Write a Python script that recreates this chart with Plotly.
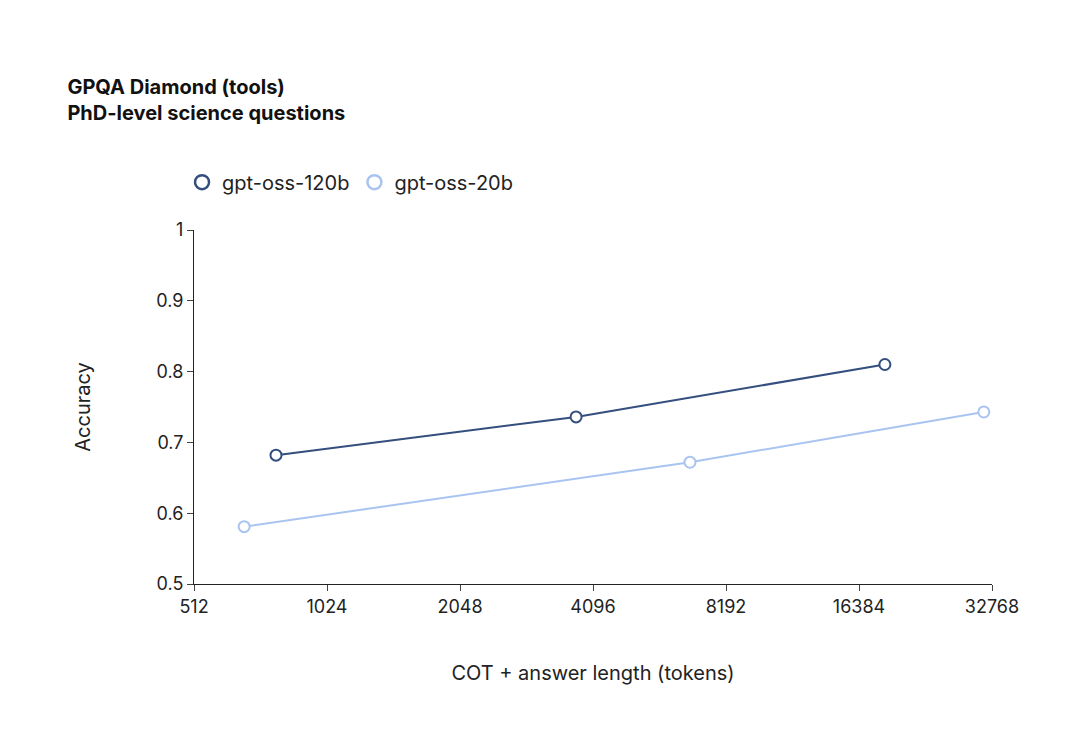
import plotly.graph_objects as go

# values
tokens_120b = [785, 3750, 18750]
acc_120b = [0.682, 0.736, 0.810]
tokens_20b = [665, 6790, 31400]
acc_20b = [0.581, 0.672, 0.743]
x_ticks = [512, 1024, 2048, 4096, 8192, 16384, 32768]
y_ticks = [0.5, 0.6, 0.7, 0.8, 0.9, 1]

dark = "#344e7e"
light = "#a9c4f0"

fig = go.Figure()
for name, xs, ys, col in [
    ("gpt-oss-120b", tokens_120b, acc_120b, dark),
    ("gpt-oss-20b", tokens_20b, acc_20b, light),
]:
    fig.add_trace(go.Scatter(
        x=xs, y=ys, name=name, mode="lines+markers", showlegend=False,
        line=dict(color=col, width=2),
        marker=dict(size=11, color="white", line=dict(color=col, width=2)),
    ))
    # marker-only legend entry
    fig.add_trace(go.Scatter(
        x=[None], y=[None], name=name, mode="markers",
        marker=dict(size=14, color="white", line=dict(color=col, width=2.5)),
    ))

fig.update_layout(
    width=1080, height=750,
    paper_bgcolor="white", plot_bgcolor="white",
    font=dict(family="Inter, Noto Sans, sans-serif", size=18, color="#222"),
    margin=dict(l=186, r=96, t=222, b=174),
    title=dict(
        text="<b>GPQA Diamond (tools)<br>PhD-level science questions</b>",
        x=0.055, xanchor="left", y=0.885, yanchor="top",
        font=dict(size=20, color="#111"),
    ),
    legend=dict(orientation="h", x=-0.015, xanchor="left", y=1.08, yanchor="bottom",
                font=dict(size=20), itemwidth=30, tracegroupgap=0),
)
fig.update_xaxes(
    type="log", range=[2.70927, 4.51545], tickvals=x_ticks,
    ticktext=[str(v) for v in x_ticks],
    showgrid=False, showline=True, linecolor="#222", ticks="outside", ticklen=6,
    title=dict(text="COT + answer length (tokens)", standoff=50, font=dict(size=20)),
)
fig.update_yaxes(
    range=[0.5, 1], tickvals=y_ticks, ticktext=["0.5", "0.6", "0.7", "0.8", "0.9", "1"],
    showgrid=False, showline=True, linecolor="#222", ticks="outside", ticklen=6,
    title=dict(text="Accuracy", standoff=60, font=dict(size=20)),
)

fig.write_html("out.html")
